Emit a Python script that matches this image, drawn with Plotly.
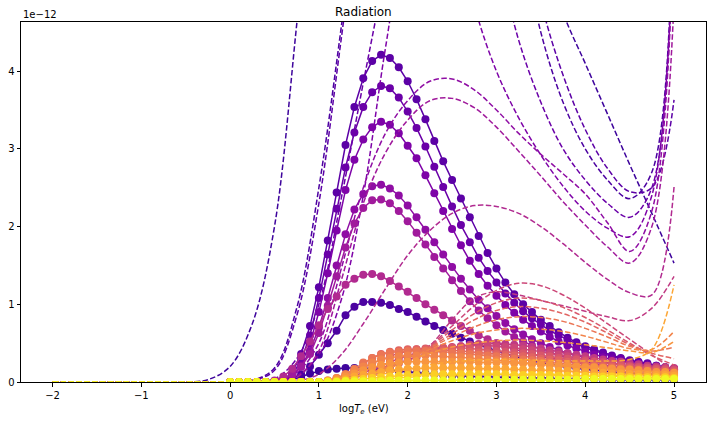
import plotly.graph_objects as go

# log10 Te grid of the tabulated (marker) data and of the fitted (dashed) curves
logT_data = [0.0, 0.1, 0.2, 0.3, 0.4, 0.5, 0.6, 0.7, 0.8, 0.9,
             1.0, 1.1, 1.2, 1.3, 1.4, 1.5, 1.6, 1.7, 1.8, 1.9,
             2.0, 2.1, 2.2, 2.3, 2.4, 2.5, 2.6, 2.7, 2.8, 2.9,
             3.0, 3.1, 3.2, 3.3, 3.4, 3.5, 3.6, 3.7, 3.8, 3.9,
             4.0, 4.1, 4.2, 4.3, 4.4, 4.5, 4.6, 4.7, 4.8, 4.9, 5.0]
logT_fit = [-2.0, -1.75, -1.5, -1.25, -1.0, -0.75, -0.5, -0.25,
            0.0, 0.25, 0.5, 0.75, 1.0, 1.25, 1.5, 1.75, 2.0, 2.25, 2.5, 2.75,
            3.0, 3.25, 3.5, 3.75, 4.0, 4.25, 4.5, 4.75, 5.0]

x_ticks = [-2, -1, 0, 1, 2, 3, 4, 5]
y_ticks = [0, 1, 2, 3, 4]

# radiation data (units of 1e-12), one list per ion
data_ion00 = [0, 0, 0, 0, 0, 0.0, 0.01, 0.03, 0.07, 0.11, 0.14, 0.16, 0.17, 0.18, 0.18,
              0.18, 0.17, 0.16, 0.15, 0.14, 0.13, 0.12, 0.11, 0.10, 0.09, 0.08, 0.08, 0.07, 0.07, 0.07,
              0.06, 0.06, 0.06, 0.05, 0.05, 0.05, 0.05, 0.04, 0.04, 0.04, 0.04, 0.04, 0.03, 0.03, 0.03,
              0.03, 0.03, 0.03, 0.03, 0.03, 0.03]
data_ion01 = [0, 0, 0, 0, 0, 0.0, 0.01, 0.04, 0.10, 0.20, 0.35, 0.50, 0.66, 0.86, 0.97,
              1.03, 1.03, 1.02, 0.99, 0.94, 0.90, 0.84, 0.78, 0.72, 0.67, 0.62, 0.57, 0.52, 0.48, 0.44,
              0.40, 0.36, 0.33, 0.30, 0.27, 0.25, 0.23, 0.21, 0.19, 0.18, 0.16, 0.15, 0.14, 0.13, 0.12,
              0.11, 0.11, 0.10, 0.10, 0.09, 0.09]
data_ion02 = [0, 0, 0, 0, 0, 0.0, 0.03, 0.12, 0.36, 0.72, 1.22, 1.82, 2.44, 3.05, 3.54,
              3.91, 4.13, 4.21, 4.17, 4.05, 3.87, 3.64, 3.38, 3.10, 2.84, 2.60, 2.36, 2.12, 1.88, 1.66,
              1.46, 1.28, 1.13, 1.00, 0.90, 0.80, 0.72, 0.64, 0.57, 0.51, 0.46, 0.42, 0.38, 0.34, 0.31,
              0.28, 0.26, 0.24, 0.21, 0.19, 0.17]
data_ion03 = [0, 0, 0, 0, 0, 0.0, 0.02, 0.09, 0.28, 0.60, 1.08, 1.64, 2.23, 2.76, 3.21,
              3.54, 3.73, 3.81, 3.78, 3.66, 3.48, 3.27, 3.03, 2.77, 2.51, 2.26, 2.02, 1.80, 1.60, 1.43,
              1.28, 1.14, 1.02, 0.91, 0.82, 0.74, 0.66, 0.60, 0.54, 0.49, 0.44, 0.40, 0.36, 0.33, 0.30,
              0.27, 0.25, 0.23, 0.21, 0.19, 0.17]
data_ion04 = [0, 0, 0, 0, 0, 0.0, 0.02, 0.07, 0.22, 0.50, 0.90, 1.40, 1.95, 2.47, 2.86,
              3.12, 3.28, 3.35, 3.31, 3.20, 3.04, 2.88, 2.66, 2.43, 2.20, 1.97, 1.76, 1.56, 1.39, 1.24,
              1.11, 0.99, 0.89, 0.80, 0.72, 0.65, 0.58, 0.52, 0.47, 0.43, 0.39, 0.35, 0.32, 0.29, 0.27,
              0.25, 0.23, 0.21, 0.19, 0.18, 0.16]
data_ion05 = [0, 0, 0, 0, 0, 0.01, 0.03, 0.09, 0.20, 0.40, 0.70, 1.08, 1.50, 1.90, 2.22,
              2.42, 2.52, 2.54, 2.49, 2.40, 2.27, 2.12, 1.96, 1.80, 1.64, 1.48, 1.33, 1.19, 1.06, 0.95,
              0.85, 0.76, 0.68, 0.61, 0.55, 0.50, 0.45, 0.41, 0.37, 0.34, 0.31, 0.28, 0.26, 0.24, 0.22,
              0.20, 0.19, 0.17, 0.16, 0.15, 0.14]
data_ion06 = [0, 0, 0, 0, 0, 0.01, 0.04, 0.10, 0.20, 0.36, 0.63, 0.98, 1.36, 1.73, 2.04,
              2.24, 2.34, 2.35, 2.30, 2.20, 2.07, 1.92, 1.77, 1.61, 1.46, 1.31, 1.17, 1.04, 0.92, 0.82,
              0.73, 0.65, 0.58, 0.52, 0.47, 0.42, 0.38, 0.34, 0.31, 0.28, 0.26, 0.24, 0.22, 0.20, 0.19,
              0.18, 0.17, 0.16, 0.15, 0.14, 0.13]
data_ion07 = [0, 0, 0, 0, 0, 0.02, 0.07, 0.17, 0.33, 0.52, 0.73, 0.94, 1.10, 1.25, 1.33,
              1.38, 1.39, 1.36, 1.30, 1.23, 1.16, 1.08, 1.00, 0.93, 0.86, 0.79, 0.72, 0.66, 0.60, 0.55,
              0.50, 0.46, 0.42, 0.39, 0.36, 0.33, 0.31, 0.29, 0.27, 0.25, 0.23, 0.22, 0.20, 0.19, 0.18,
              0.17, 0.16, 0.15, 0.14, 0.13, 0.12]
data_ion08 = [0, 0, 0, 0, 0, 0, 0, 0, 0, 0, 0.0, 0.01, 0.02, 0.04, 0.06,
              0.09, 0.12, 0.16, 0.20, 0.24, 0.28, 0.32, 0.36, 0.39, 0.42, 0.44, 0.46, 0.48, 0.49, 0.50,
              0.50, 0.49, 0.48, 0.47, 0.45, 0.43, 0.41, 0.39, 0.37, 0.35, 0.33, 0.31, 0.29, 0.27, 0.26,
              0.24, 0.23, 0.21, 0.20, 0.19, 0.18]
data_ion09 = [0, 0, 0, 0, 0, 0, 0, 0, 0, 0, 0.0, 0.01, 0.03, 0.05, 0.08,
              0.12, 0.16, 0.21, 0.26, 0.30, 0.34, 0.37, 0.40, 0.42, 0.44, 0.45, 0.46, 0.47, 0.47, 0.47,
              0.46, 0.45, 0.44, 0.42, 0.41, 0.39, 0.37, 0.35, 0.33, 0.31, 0.29, 0.27, 0.26, 0.24, 0.23,
              0.21, 0.20, 0.19, 0.18, 0.17, 0.16]
data_ion10 = [0, 0, 0, 0, 0, 0, 0, 0, 0, 0, 0.0, 0.01, 0.03, 0.07, 0.12,
              0.18, 0.24, 0.29, 0.33, 0.37, 0.40, 0.42, 0.43, 0.44, 0.44, 0.44, 0.44, 0.43, 0.42, 0.41,
              0.40, 0.39, 0.38, 0.37, 0.36, 0.34, 0.33, 0.31, 0.30, 0.29, 0.27, 0.26, 0.24, 0.23, 0.22,
              0.20, 0.19, 0.18, 0.17, 0.16, 0.15]
data_ion11 = [0, 0, 0, 0, 0, 0, 0, 0, 0, 0, 0.0, 0.01, 0.04, 0.09, 0.16,
              0.24, 0.31, 0.36, 0.39, 0.41, 0.42, 0.42, 0.42, 0.42, 0.41, 0.41, 0.40, 0.39, 0.38, 0.37,
              0.36, 0.35, 0.34, 0.33, 0.32, 0.30, 0.29, 0.28, 0.26, 0.25, 0.24, 0.22, 0.21, 0.20, 0.19,
              0.18, 0.17, 0.16, 0.15, 0.14, 0.13]
data_ion12 = [0, 0, 0, 0, 0, 0, 0, 0, 0, 0, 0.0, 0.02, 0.05, 0.10, 0.17,
              0.25, 0.31, 0.35, 0.38, 0.39, 0.40, 0.40, 0.40, 0.39, 0.39, 0.38, 0.37, 0.36, 0.35, 0.34,
              0.33, 0.32, 0.30, 0.29, 0.28, 0.27, 0.25, 0.24, 0.23, 0.22, 0.21, 0.20, 0.19, 0.18, 0.17,
              0.16, 0.15, 0.14, 0.13, 0.12, 0.11]
data_ion13 = [0, 0, 0, 0, 0, 0, 0, 0, 0, 0, 0.0, 0.02, 0.05, 0.10, 0.15,
              0.20, 0.25, 0.29, 0.31, 0.33, 0.34, 0.34, 0.34, 0.33, 0.33, 0.32, 0.32, 0.31, 0.30, 0.29,
              0.28, 0.27, 0.26, 0.25, 0.24, 0.23, 0.22, 0.21, 0.20, 0.19, 0.18, 0.17, 0.16, 0.15, 0.14,
              0.13, 0.12, 0.11, 0.11, 0.10, 0.09]
data_ion14 = [0, 0, 0, 0, 0, 0, 0, 0, 0, 0, 0.0, 0.01, 0.04, 0.07, 0.11,
              0.15, 0.19, 0.22, 0.24, 0.25, 0.26, 0.26, 0.26, 0.26, 0.26, 0.26, 0.26, 0.26, 0.25, 0.25,
              0.25, 0.25, 0.24, 0.24, 0.23, 0.23, 0.22, 0.21, 0.21, 0.20, 0.19, 0.19, 0.18, 0.17, 0.16,
              0.16, 0.15, 0.14, 0.13, 0.13, 0.12]
data_ion15 = [0, 0, 0, 0, 0, 0, 0, 0, 0, 0, 0.0, 0.01, 0.02, 0.04, 0.07,
              0.09, 0.11, 0.13, 0.15, 0.16, 0.17, 0.17, 0.18, 0.18, 0.18, 0.18, 0.18, 0.18, 0.17, 0.17,
              0.17, 0.17, 0.16, 0.16, 0.15, 0.15, 0.15, 0.14, 0.14, 0.13, 0.13, 0.12, 0.12, 0.11, 0.11,
              0.10, 0.10, 0.09, 0.09, 0.09, 0.08]
data_ion16 = [0, 0, 0, 0, 0, 0, 0, 0, 0, 0, 0.0, 0.01, 0.01, 0.02, 0.03,
              0.04, 0.05, 0.06, 0.07, 0.08, 0.09, 0.09, 0.10, 0.10, 0.10, 0.10, 0.10, 0.10, 0.10, 0.10,
              0.10, 0.10, 0.09, 0.09, 0.09, 0.09, 0.09, 0.08, 0.08, 0.08, 0.08, 0.07, 0.07, 0.07, 0.07,
              0.06, 0.06, 0.06, 0.06, 0.06, 0.05]
data_ion17 = [0, 0, 0, 0, 0, 0, 0, 0, 0, 0, 0.0, 0.0, 0.0, 0.01, 0.01,
              0.01, 0.01, 0.01, 0.02, 0.02, 0.02, 0.02, 0.02, 0.02, 0.02, 0.02, 0.02, 0.03, 0.03, 0.03,
              0.03, 0.03, 0.03, 0.03, 0.03, 0.03, 0.03, 0.03, 0.03, 0.03, 0.04, 0.04, 0.04, 0.04, 0.04,
              0.04, 0.04, 0.04, 0.04, 0.04, 0.04]

# fitted radiation curves (units of 1e-12) on logT_fit
fit_ion00 = [0, 0, 0, 0, 0, 0, 0, 0.03, 0.2, 0.75, 2.0, 4.6, 7.5, 9.5, 10.5, 11.0,
             11.0, 10.5, 9.7, 8.8, 7.8, 6.8, 5.7, 4.75, 4.1, 3.45, 2.8, 2.17, 1.53]
fit_ion01 = [0, 0, 0, 0, 0, 0, 0, 0, 0, 0.02, 0.18, 0.95, 2.5, 4.55, 6.8, 8.5,
             9.5, 10.0, 9.5, 8.6, 7.4, 5.9, 4.5, 3.6, 3.0, 2.6, 2.36, 2.7, 7.0]
fit_ion02 = [0, 0, 0, 0, 0, 0, 0, 0, 0, 0.02, 0.15, 0.85, 2.3, 4.4, 6.6, 8.3,
             9.4, 9.9, 9.8, 9.0, 7.9, 6.4, 4.9, 3.95, 3.25, 2.75, 2.45, 2.5, 3.63]
fit_ion03 = [0, 0, 0, 0, 0, 0, 0, 0, 0, 0.0, 0.04, 0.3, 1.0, 2.35, 3.85, 5.3,
             6.7, 7.5, 7.6, 7.0, 5.6, 4.4, 3.6, 3.0, 2.6, 2.3, 2.12, 2.5, 6.5]
fit_ion04 = [0, 0, 0, 0, 0, 0, 0, 0, 0, 0, 0.01, 0.08, 0.35, 1.05, 2.4, 4.3,
             5.9, 6.6, 6.2, 4.85, 4.0, 3.4, 2.92, 2.52, 2.2, 1.98, 1.87, 2.4, 6.0]
fit_ion05 = [0, 0, 0, 0, 0, 0, 0, 0, 0, 0, 0.02, 0.12, 0.5, 1.45, 2.5, 3.2,
             3.62, 3.87, 3.9, 3.76, 3.5, 3.2, 2.93, 2.68, 2.42, 2.05, 1.68, 2.2, 6.0]
fit_ion06 = [0, 0, 0, 0, 0, 0, 0, 0, 0, 0, 0.01, 0.06, 0.4, 1.3, 2.3, 2.95,
             3.37, 3.62, 3.65, 3.53, 3.28, 2.97, 2.65, 2.32, 2.02, 1.74, 1.53, 2.0, 4.9]
fit_ion07 = [0, 0, 0, 0, 0, 0, 0, 0, 0, 0, 0, 0.01, 0.1, 0.35, 0.75, 1.2,
             1.63, 1.95, 2.17, 2.27, 2.26, 2.17, 2.0, 1.78, 1.54, 1.32, 1.15, 1.12, 2.51]
fit_ion08 = [0, 0, 0, 0, 0, 0, 0, 0, 0, 0, 0, 0, 0, 0.0, 0.05, 0.15,
             0.3, 0.47, 0.8, 1.08, 1.16, 1.12, 1.05, 0.98, 0.91, 0.84, 0.79, 0.95, 1.36]
fit_ion09 = [0, 0, 0, 0, 0, 0, 0, 0, 0, 0, 0, 0, 0, 0.02, 0.08, 0.2,
             0.32, 0.47, 0.72, 0.98, 1.18, 1.27, 1.24, 1.12, 0.95, 0.75, 0.55, 0.35, 0.15]
fit_ion10 = [0, 0, 0, 0, 0, 0, 0, 0, 0, 0, 0, 0, 0, 0.02, 0.08, 0.19,
             0.31, 0.46, 0.67, 0.88, 1.02, 1.08, 1.05, 0.96, 0.83, 0.67, 0.5, 0.34, 0.22]
fit_ion11 = [0, 0, 0, 0, 0, 0, 0, 0, 0, 0, 0, 0, 0, 0.02, 0.08, 0.19,
             0.31, 0.45, 0.62, 0.8, 0.92, 0.97, 0.95, 0.88, 0.77, 0.63, 0.48, 0.37, 0.3]
fit_ion12 = [0, 0, 0, 0, 0, 0, 0, 0, 0, 0, 0, 0, 0, 0.02, 0.08, 0.19,
             0.31, 0.44, 0.58, 0.71, 0.8, 0.84, 0.83, 0.78, 0.69, 0.58, 0.46, 0.4, 0.45]
fit_ion13 = [0, 0, 0, 0, 0, 0, 0, 0, 0, 0, 0, 0, 0, 0.02, 0.08, 0.18,
             0.3, 0.42, 0.53, 0.62, 0.67, 0.69, 0.68, 0.65, 0.59, 0.51, 0.43, 0.42, 0.65]
fit_ion14 = [0, 0, 0, 0, 0, 0, 0, 0, 0, 0, 0, 0, 0, 0.02, 0.07, 0.16,
             0.27, 0.37, 0.45, 0.5, 0.53, 0.54, 0.53, 0.51, 0.48, 0.44, 0.4, 0.38, 0.52]
fit_ion15 = [0, 0, 0, 0, 0, 0, 0, 0, 0, 0, 0, 0, 0, 0.01, 0.05, 0.11,
             0.17, 0.22, 0.26, 0.28, 0.29, 0.29, 0.28, 0.27, 0.27, 0.27, 0.29, 0.42, 1.25]
fit_ion16 = [0, 0, 0, 0, 0, 0, 0, 0, 0, 0, 0, 0, 0, 0.01, 0.02, 0.04,
             0.06, 0.08, 0.09, 0.1, 0.1, 0.1, 0.1, 0.1, 0.09, 0.09, 0.08, 0.08, 0.07]
fit_ion17 = [0, 0, 0, 0, 0, 0, 0, 0, 0, 0, 0, 0, 0, 0, 0.01, 0.01,
             0.02, 0.02, 0.02, 0.03, 0.03, 0.03, 0.03, 0.03, 0.03, 0.03, 0.04, 0.04, 0.04]

ion_colors = ["#3e049c", "#4c02a1", "#5c01a6", "#6a00a8", "#7e03a8", "#8f0da4",
              "#a01a9c", "#b12a90", "#c03a83", "#cc4778", "#d8576b", "#e16462",
              "#eb7655", "#f2844b", "#f89540", "#fca636", "#fcce25", "#f0f921"]

data_series = [data_ion00, data_ion01, data_ion02, data_ion03, data_ion04, data_ion05,
               data_ion06, data_ion07, data_ion08, data_ion09, data_ion10, data_ion11,
               data_ion12, data_ion13, data_ion14, data_ion15, data_ion16, data_ion17]
fit_series = [fit_ion00, fit_ion01, fit_ion02, fit_ion03, fit_ion04, fit_ion05,
              fit_ion06, fit_ion07, fit_ion08, fit_ion09, fit_ion10, fit_ion11,
              fit_ion12, fit_ion13, fit_ion14, fit_ion15, fit_ion16, fit_ion17]

FONT = "DejaVu Sans"
fig = go.Figure()
for color, d, f in zip(ion_colors, data_series, fit_series):
    fig.add_trace(go.Scatter(x=logT_data, y=d, mode="lines+markers",
                             line=dict(color=color, width=1.5),
                             marker=dict(color=color, size=8, line=dict(width=0)),
                             showlegend=False))
    fig.add_trace(go.Scatter(x=logT_fit, y=f, mode="lines",
                             line=dict(color=color, width=1.5, dash="5.5px,2.4px",
                                       shape="spline", smoothing=1.0),
                             showlegend=False))

axis_common = dict(showgrid=False, zeroline=False, showline=True, linecolor="black",
                   linewidth=1, mirror=True, ticks="outside", ticklen=3.5, tickwidth=0.8,
                   tickcolor="black", automargin=False,
                   tickfont=dict(family=FONT, size=10, color="black"))

fig.update_layout(
    width=712, height=424,
    margin=dict(l=21, r=6, t=22, b=42),
    plot_bgcolor="white", paper_bgcolor="white",
    xaxis=dict(range=[-2.355, 5.36], tickmode="array", tickvals=x_ticks,
               ticktext=[str(v).replace("-", "\u2212") for v in x_ticks], **axis_common),
    yaxis=dict(range=[0, 4.633], tickmode="array", tickvals=y_ticks,
               ticktext=[str(v) for v in y_ticks], **axis_common),
    annotations=[
        dict(text="Radiation", xref="paper", yref="paper", x=0.5, y=1, xanchor="center",
             yanchor="bottom", yshift=1, showarrow=False,
             font=dict(family=FONT, size=12, color="black")),
        dict(text="1e\u221212", xref="paper", yref="paper", x=0, y=1, xanchor="left",
             yanchor="bottom", yshift=0, showarrow=False,
             font=dict(family=FONT, size=10, color="black")),
        dict(text="log<i>T</i><sub><i>e</i></sub> (eV)", xref="paper", yref="paper", x=0.5, y=0,
             xanchor="center", yanchor="top", yshift=-19, showarrow=False,
             font=dict(family=FONT, size=10, color="black")),
    ],
)

# remove the default 8 px page margin so the figure sits at the window's corner
fig.write_html("out.html", config={"displayModeBar": False},
               post_script="document.body.style.margin='0px';")
